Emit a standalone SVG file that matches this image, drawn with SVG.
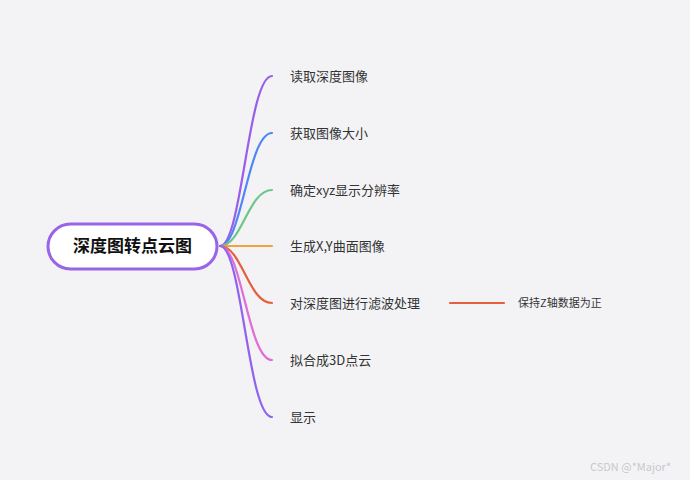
<svg xmlns="http://www.w3.org/2000/svg" width="690" height="480" viewBox="0 0 690 480">
<style>
text{font-family:"Noto Sans CJK SC","Noto Sans",sans-serif;font-size:13px;fill:#333}
.c{fill:none;stroke-width:2.2;stroke-linecap:round}
</style>
<rect width="690" height="480" fill="#f3f3f6"/>
<g id="connectors">
<path class="c" stroke="#9a5ee8" d="M220 246 C242 246,248 76,272 76"/>
<path class="c" stroke="#4f86f7" d="M220 246 C242 246,248 133,272 133"/>
<path class="c" stroke="#6cc68a" d="M220 246 C242 246,248 190,272 190"/>
<path class="c" stroke="#efa43c" d="M220 246 L272 246"/>
<path class="c" stroke="#e55f3f" d="M220 246 C242 246,248 303,272 303"/>
<path class="c" stroke="#e06ed6" d="M220 246 C242 246,248 360,272 360"/>
<path class="c" stroke="#9063ee" d="M220 246 C242 246,248 417,272 417"/>
<path class="c" stroke="#e55f3f" d="M450 303 L504 303"/>
</g>
<g id="root">
<rect x="48" y="224" width="169" height="45" rx="22.5" fill="#fff" stroke="#9a64e8" stroke-width="3"/>
<text x="132.5" y="252" text-anchor="middle" style="font-size:17px;font-weight:bold;fill:#111">深度图转点云图</text>
</g>
<g id="n1"><text x="290" y="81">读取深度图像</text></g>
<g id="n2"><text x="290" y="138">获取图像大小</text></g>
<g id="n3"><text x="290" y="195">确定xyz显示分辨率</text></g>
<g id="n4"><text x="290" y="251">生成X,Y曲面图像</text></g>
<g id="n5"><text x="290" y="308">对深度图进行滤波处理</text></g>
<g id="n6"><text x="290" y="365">拟合成3D点云</text></g>
<g id="n7"><text x="290" y="422">显示</text></g>
<g id="n8"><text x="518" y="307" style="font-size:11px">保持Z轴数据为正</text></g>
<text x="590" y="471" style="font-size:11px;fill:#c8c8cc">CSDN @*Major*</text>
</svg>
